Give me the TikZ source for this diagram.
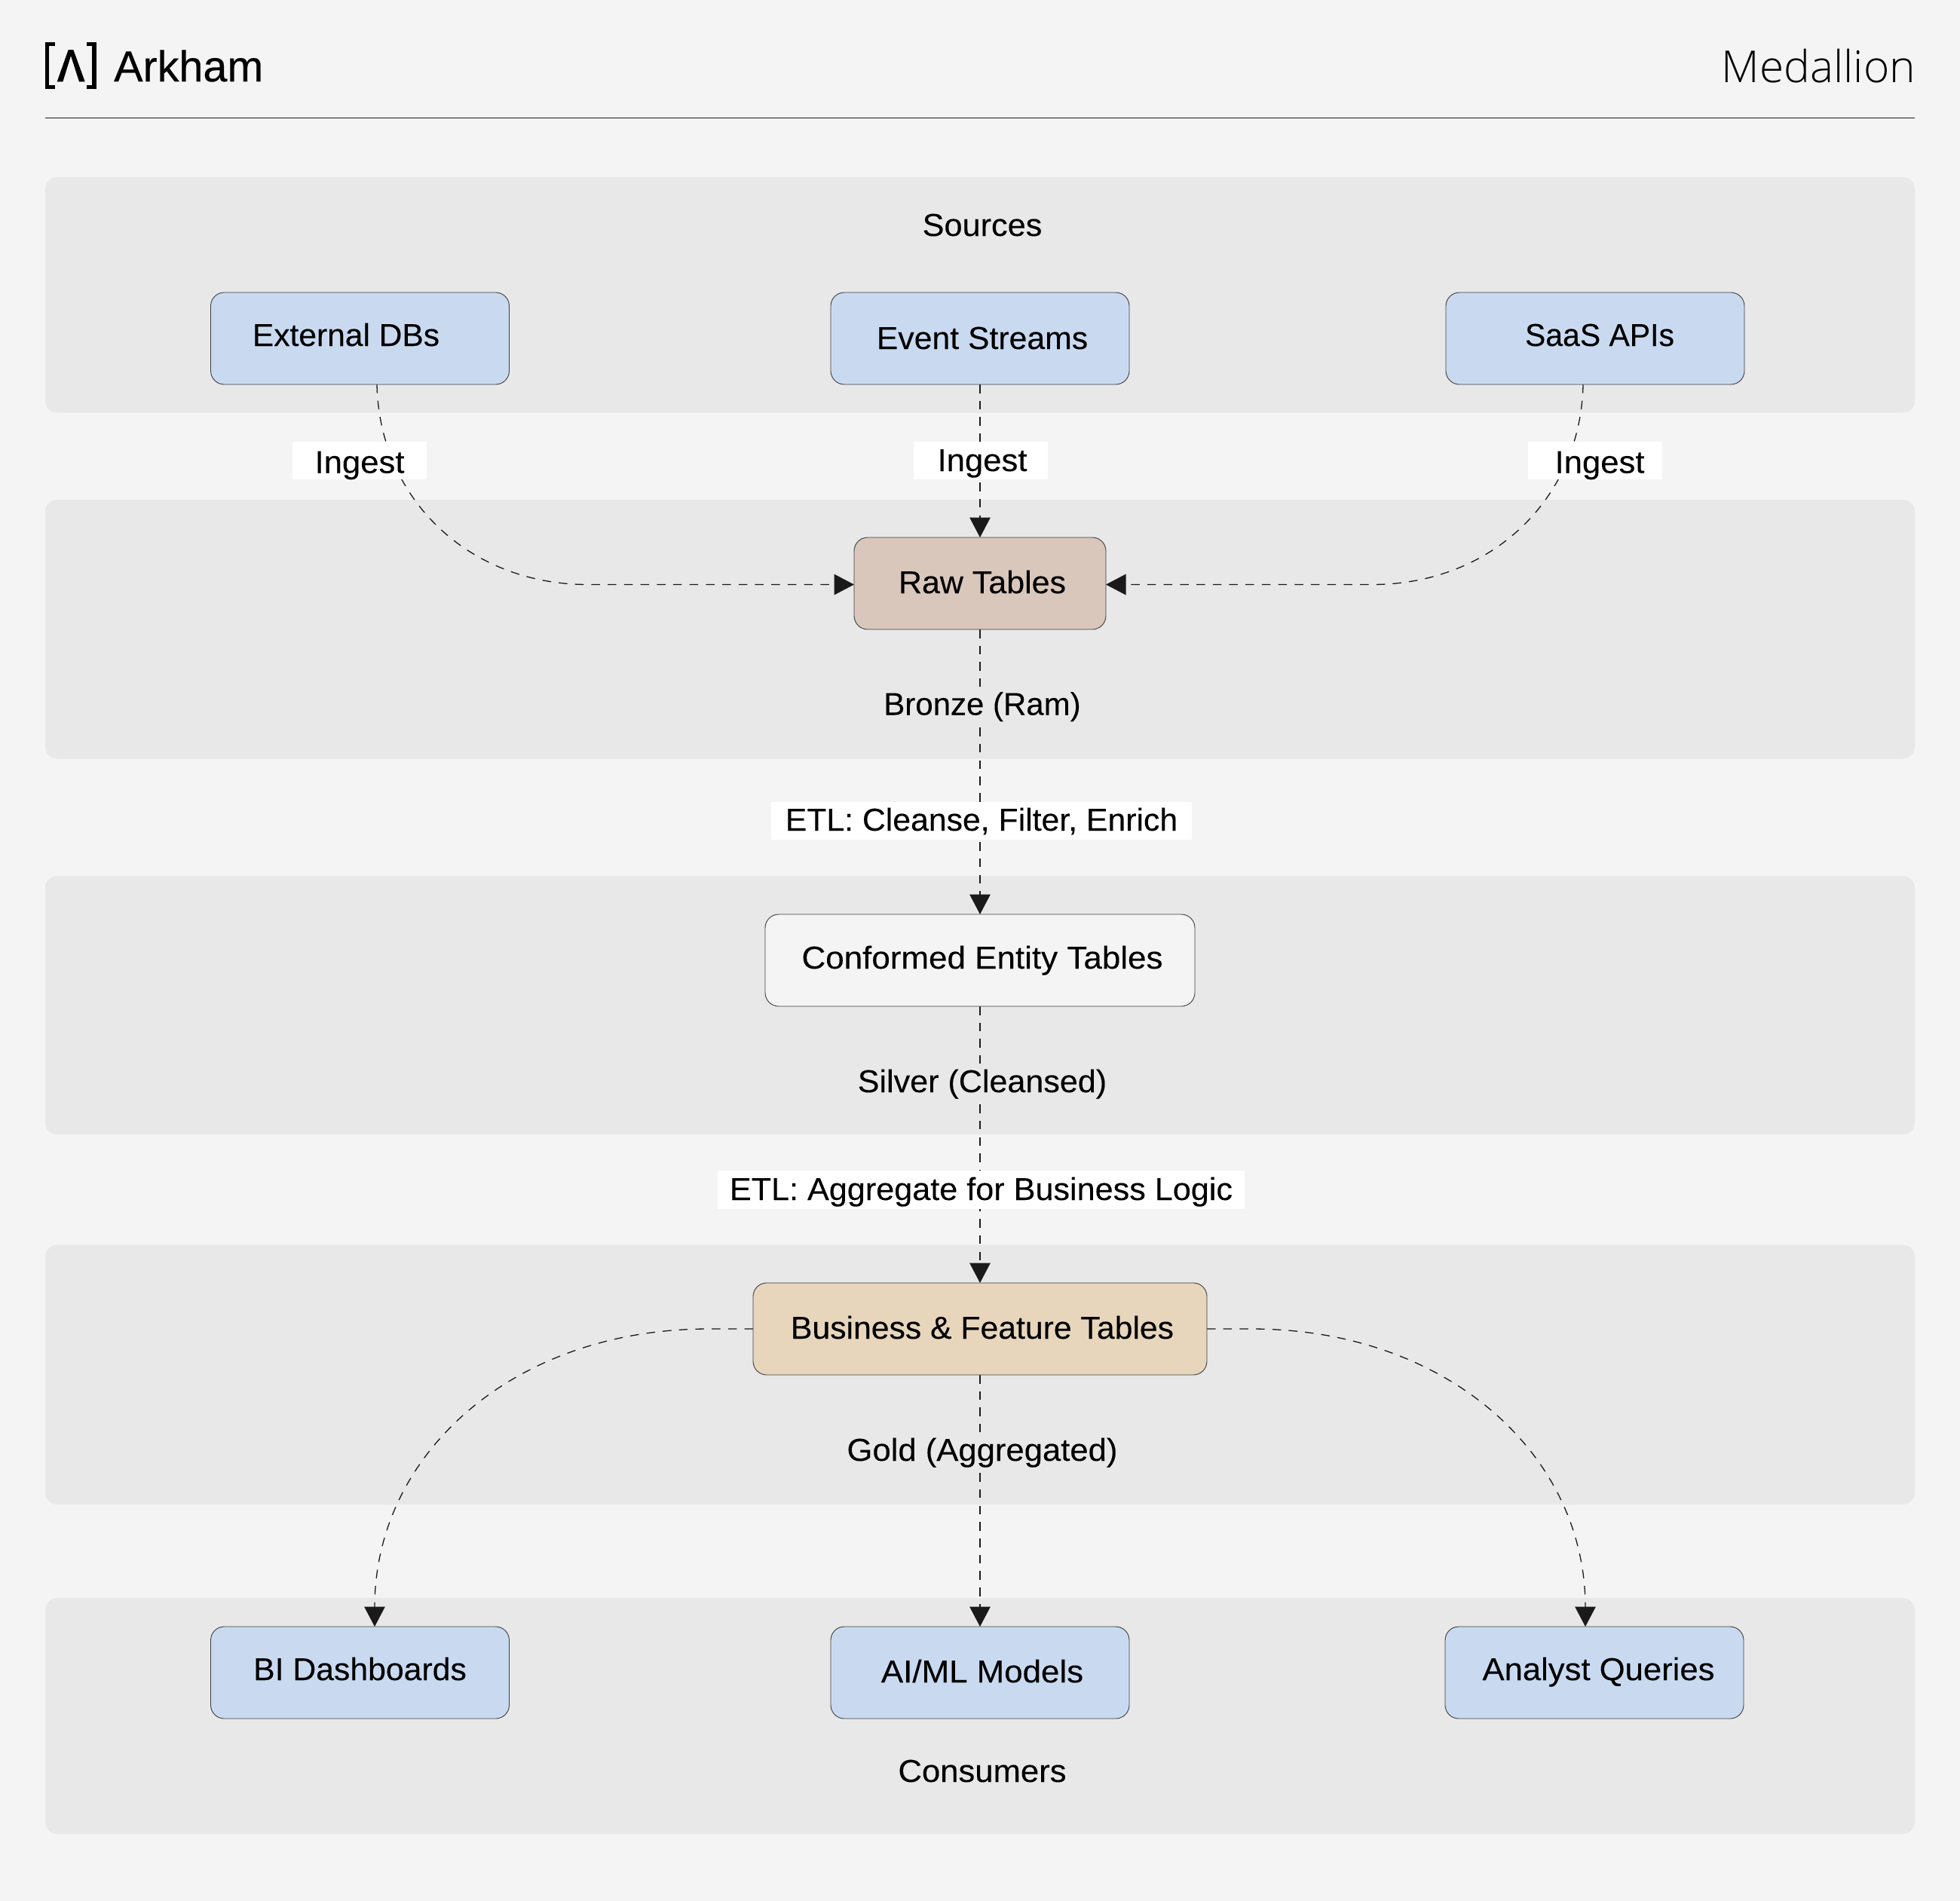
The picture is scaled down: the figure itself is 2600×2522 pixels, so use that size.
\documentclass[tikz,border=0pt]{standalone}
\usepackage{graphicx}
\usepackage{fontspec}
\setmainfont[FakeBold=0.15]{Liberation Sans}
\newfontfamily\lightfont{Open Sans Light}
\newfontfamily\logofont[FakeBold=0.4]{Liberation Sans}
\usetikzlibrary{arrows.meta}
\pgfdeclarelayer{panels}
\pgfdeclarelayer{edges}
\pgfsetlayers{panels,edges,main}
\definecolor{pagebg}{HTML}{F4F4F4}
\definecolor{panelbg}{HTML}{E8E8E8}
\definecolor{blueb}{HTML}{C9DAF0}
\definecolor{brownb}{HTML}{DAC7BC}
\definecolor{tanb}{HTML}{E7D6BC}
\definecolor{ink}{HTML}{1A1A1A}
\newcommand{\sx}[2]{\scalebox{#1}[1]{#2}}
\tikzset{
  x=1pt,y=-1pt,
  panel/.style={fill=panelbg,draw=none,rounded corners=16pt,anchor=north west,inner sep=0pt,outer sep=0pt},
  txt/.style={font=\fontsize{42}{50}\selectfont,text=black},
  box/.style={txt,draw=ink!85,line width=0.9pt,rounded corners=18pt,inner sep=0pt,outer sep=0pt,align=center},
  small/.style={box,minimum width=396pt},
  blue/.style={small,fill=blueb},
  edgelab/.style={txt,fill=white,inner sep=0pt,outer sep=0pt,anchor=base,text height=38pt,text depth=12pt},
  panlab/.style={edgelab,fill=panelbg},
  flow/.style={draw=ink,line width=1.3pt,dash pattern=on 11.5pt off 10.2pt,-{Triangle[width=27.5pt,length=26.5pt,fill=ink]}},
}
\begin{document}
\begin{tikzpicture}
\useasboundingbox (0,0) rectangle (2600,2522);
\begin{pgfonlayer}{panels}
\fill[pagebg] (0,0) rectangle (2600,2522);
\node[panel,minimum width=2480pt,minimum height=312.5pt] (p1) at (60,235) {};
\node[panel,minimum width=2480pt,minimum height=343.5pt] (p2) at (60,663) {};
\node[panel,minimum width=2480pt,minimum height=343pt] (p3) at (60,1162) {};
\node[panel,minimum width=2480pt,minimum height=344.5pt] (p4) at (60,1651.5) {};
\node[panel,minimum width=2480pt,minimum height=313pt] (p5) at (60,2120) {};
\end{pgfonlayer}
% header
\draw[black,line width=5.8pt,line cap=butt,line join=miter] (72.7,58.4) -- (62.4,58.4) -- (62.4,115.4) -- (72.7,115.4);
\draw[black,line width=5.8pt,line cap=butt,line join=miter] (115,58.4) -- (125.3,58.4) -- (125.3,115.4) -- (115,115.4);
\fill[black] (90.7,66) -- (97.3,66) -- (112.7,108.3) -- (105,108.3) -- (94,74) -- (83.4,108.3) -- (75.7,108.3) -- cycle;
\node[anchor=base west,inner sep=0pt,font=\logofont\fontsize{57.5}{60}\selectfont] (brand) at (151,108) {Arkham};
\node[anchor=base east,inner sep=0pt,font=\lightfont\fontsize{58.5}{60}\selectfont] (title) at (2541,109.5) {Medallion};
\coordinate (ruleL) at (60,156.6);
\coordinate (ruleR) at (2540,156.6);
\draw[ink,line width=1.4pt] (ruleL) -- (ruleR);
% boxes
\node[blue,text height=71pt,text depth=51pt] (ext) at (477.5,449) {\hspace*{-37pt}\sx{1.013}{External DBs}};
\node[blue,text height=75pt,text depth=47pt] (evt) at (1300,449) {\hspace*{6pt}\sx{1.018}{Event Streams}};
\node[blue,text height=71pt,text depth=51pt] (saas) at (2116,449) {\hspace*{12pt}\sx{0.975}{SaaS APIs}};
\node[box,fill=brownb,minimum width=334pt,text height=74pt,text depth=48pt] (raw) at (1300,774) {\hspace*{6pt}\sx{1.023}{Raw Tables}};
\node[box,fill=pagebg,minimum width=570pt,text height=72pt,text depth=50pt] (conf) at (1300,1274) {\hspace*{6pt}\sx{1.047}{Conformed Entity Tables}};
\node[box,fill=tanb,minimum width=602pt,text height=74pt,text depth=48pt] (bus) at (1300,1763) {\hspace*{6pt}\sx{1.017}{Business \& Feature Tables}};
\node[blue,text height=71pt,text depth=51pt] (bi) at (477.5,2219) {\sx{1.018}{BI Dashboards}};
\node[blue,text height=74pt,text depth=48pt] (ai) at (1300,2219) {\hspace*{6pt}\sx{1.045}{AI/ML Models}};
\node[blue,text height=71pt,text depth=51pt] (ana) at (2115,2219) {\hspace*{11pt}\sx{1.039}{Analyst Queries}};
% panel labels
\node[panlab] (l1) at (1303,313) {\sx{1.03}{Sources}};
\node[panlab] (l2) at (1303,948.5) {Bronze (Ram)};
\node[panlab] (l3) at (1303,1449) {\sx{1.026}{Silver (Cleansed)}};
\node[panlab] (l4) at (1303,1938) {\sx{1.039}{Gold (Aggregated)}};
\node[panlab] (l5) at (1303,2364) {\sx{1.039}{Consumers}};
% edge labels
\node[edgelab,minimum width=178pt,text height=42pt,text depth=8pt] (e1) at (477,627.5) {\sx{1.04}{Ingest}};
\node[edgelab,minimum width=178pt,text height=39.5pt,text depth=10.5pt] (e2) at (1301,625) {\hspace*{4pt}\sx{1.04}{Ingest}};
\node[edgelab,minimum width=178pt,text height=42pt,text depth=8pt] (e3) at (2116,627.5) {\hspace*{12pt}\sx{1.04}{Ingest}};
\node[edgelab,minimum width=558pt] (e4) at (1302,1102) {\sx{1.018}{ETL: Cleanse, Filter, Enrich}};
\node[edgelab,minimum width=699pt,text height=39pt] (e5) at (1301.5,1592) {\sx{1.028}{ETL: Aggregate for Business Logic}};
% connectors
\begin{pgfonlayer}{edges}
\draw[flow] ([xshift=22.5pt]ext.south) .. controls (503,660) and (620,775.5) .. (780,775.5) -- ([yshift=-1.5pt]raw.west);
\draw[flow] ([xshift=-16pt]saas.south) .. controls (2097,660) and (1980,775.5) .. (1820,775.5) -- ([yshift=-1.5pt]raw.east);
\draw[flow] (evt.south) -- (raw.north);
\draw[flow] (raw.south) -- (conf.north);
\draw[flow] (conf.south) -- (bus.north);
\draw[flow] (bus.south) -- (ai.north);
\draw[flow] (bus.west) -- (940,1763) .. controls (680,1763) and (497,1930) .. ([xshift=19.5pt]bi.north);
\draw[flow] (bus.east) -- (1660,1763) .. controls (1920,1763) and (2103,1930) .. ([xshift=-12pt]ana.north);
\end{pgfonlayer}
\end{tikzpicture}
\end{document}
